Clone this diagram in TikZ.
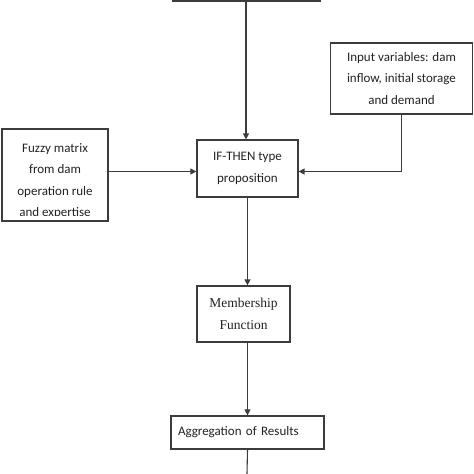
\documentclass[tikz,border=0pt]{standalone}
\usepackage{fontspec}
\setmainfont{Carlito}
\newfontfamily\timesnm{Liberation Serif}
\usetikzlibrary{arrows.meta}
\definecolor{linec}{HTML}{3C3C3C}
\definecolor{textc}{HTML}{222222}
\begin{document}
\begin{tikzpicture}[x=1pt,y=-1pt,
  boxst/.style={draw=linec, line width=1.2pt, inner sep=0pt, text=textc, align=center,
    font=\fontsize{13}{21.5}\selectfont},
  conn/.style={draw=linec, line width=1.1pt},
  arr/.style={conn, -{Triangle[length=6pt,width=6pt]}}]
\useasboundingbox (0,0) rectangle (474,474);
\node[boxst, minimum width=147pt, minimum height=22pt] (top) at (246.5,-10) {};
\node[boxst, minimum width=142pt, minimum height=71pt] (input) at (401.5,78.5)
  {Input variables: dam\\inflow, initial storage\\and demand};
\node[boxst, minimum width=101pt, minimum height=57pt] (ifthen) at (247.5,168.5)
  {IF-THEN type\\proposition};
\node[boxst, minimum width=106pt, minimum height=92pt] (fuzzy) at (55,175) {};
\begin{scope}
  \clip (2,129) rectangle (108,215);
  \node[text=textc, align=center, inner sep=0pt, font=\fontsize{13}{21.5}\selectfont]
    (fuzzytext) at (55,181) {Fuzzy matrix\\from dam\\operation rule\\and expertise};
\end{scope}
\node[boxst, minimum width=93pt, minimum height=56pt, font=\timesnm\fontsize{13.5}{21.5}\selectfont] (mem) at (243.5,314)
  {Membership\\Function};
\node[boxst, minimum width=153pt, minimum height=33pt, inner xsep=7pt, text width=139pt, align=left] (agg) at (247.5,432.5)
  {Aggregation of Results};
\coordinate (endb) at (247,474);
\draw[arr] (top.south -| 246,0) -- (246,0 |- ifthen.north);
\draw[arr] (input.south) |- ([yshift=-3pt]ifthen.east);
\draw[arr] ([yshift=-3pt]ifthen.west -| fuzzy.east) -- ([yshift=-3pt]ifthen.west);
\draw[arr] (ifthen.south) -- (ifthen.south |- mem.north);
\draw[arr] (ifthen.south |- mem.south) -- (agg.north);
\draw[conn] (agg.south) -- (endb);
\end{tikzpicture}
\end{document}
